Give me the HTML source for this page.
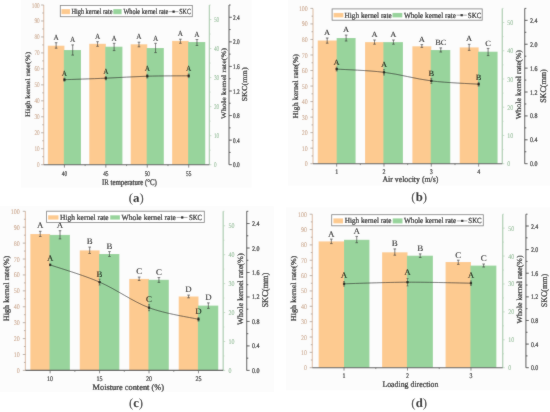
<!DOCTYPE html>
<html><head><meta charset="utf-8"><title>Figure</title>
<style>html,body{margin:0;padding:0;background:#fff;}svg{display:block;}text{font-family:'Liberation Serif', serif;text-rendering:geometricPrecision;}</style>
</head><body>
<svg width="550" height="412" viewBox="0 0 550 412">
<defs><filter id="soft" x="0" y="0" width="550" height="412" filterUnits="userSpaceOnUse"><feConvolveMatrix order="3" kernelMatrix="1 2 1 2 28 2 1 2 1" edgeMode="duplicate"/></filter></defs>
<g filter="url(#soft)">
<rect width="550" height="412" fill="#fff"/>
<rect x="21" y="0" width="230.5" height="187.7" fill="#FCFCFC"/>
<rect x="47.84" y="45.7" width="16.57" height="119" fill="#FDCA90"/>
<rect x="63.81" y="50" width="17.17" height="114.7" fill="#98D49C"/>
<rect x="89.27" y="43.8" width="16.57" height="120.9" fill="#FDCA90"/>
<rect x="105.24" y="46.7" width="17.17" height="118" fill="#98D49C"/>
<rect x="130.69" y="44.3" width="16.57" height="120.4" fill="#FDCA90"/>
<rect x="146.66" y="48" width="17.17" height="116.7" fill="#98D49C"/>
<rect x="172.12" y="40.9" width="16.57" height="123.8" fill="#FDCA90"/>
<rect x="188.09" y="42" width="17.17" height="122.7" fill="#98D49C"/>
<path d="M56.13,42.7V48.2M54.83,42.7H57.43M54.83,48.2H57.43" stroke="#333333" stroke-width="0.65" fill="none"/>
<text x="56.13" y="39.9" font-size="8.1" fill="#000" text-anchor="middle" textLength="5.26" lengthAdjust="spacingAndGlyphs" stroke="#000" stroke-width="0.05">A</text>
<path d="M72.7,44.9V55.1M71.4,44.9H74M71.4,55.1H74" stroke="#333333" stroke-width="0.65" fill="none"/>
<text x="72.7" y="42.1" font-size="8.1" fill="#000" text-anchor="middle" textLength="5.26" lengthAdjust="spacingAndGlyphs" stroke="#000" stroke-width="0.05">A</text>
<path d="M97.55,41.7V46.3M96.25,41.7H98.85M96.25,46.3H98.85" stroke="#333333" stroke-width="0.65" fill="none"/>
<text x="97.55" y="38.9" font-size="8.1" fill="#000" text-anchor="middle" textLength="5.26" lengthAdjust="spacingAndGlyphs" stroke="#000" stroke-width="0.05">A</text>
<path d="M114.12,43.3V50.6M112.82,43.3H115.42M112.82,50.6H115.42" stroke="#333333" stroke-width="0.65" fill="none"/>
<text x="114.12" y="40.5" font-size="8.1" fill="#000" text-anchor="middle" textLength="5.26" lengthAdjust="spacingAndGlyphs" stroke="#000" stroke-width="0.05">A</text>
<path d="M138.98,42.2V46.8M137.68,42.2H140.28M137.68,46.8H140.28" stroke="#333333" stroke-width="0.65" fill="none"/>
<text x="138.98" y="39.4" font-size="8.1" fill="#000" text-anchor="middle" textLength="5.26" lengthAdjust="spacingAndGlyphs" stroke="#000" stroke-width="0.05">A</text>
<path d="M155.55,43.3V52.6M154.25,43.3H156.85M154.25,52.6H156.85" stroke="#333333" stroke-width="0.65" fill="none"/>
<text x="155.55" y="40.5" font-size="8.1" fill="#000" text-anchor="middle" textLength="5.26" lengthAdjust="spacingAndGlyphs" stroke="#000" stroke-width="0.05">A</text>
<path d="M180.4,39.2V43.3M179.1,39.2H181.7M179.1,43.3H181.7" stroke="#333333" stroke-width="0.65" fill="none"/>
<text x="180.4" y="36.4" font-size="8.1" fill="#000" text-anchor="middle" textLength="5.26" lengthAdjust="spacingAndGlyphs" stroke="#000" stroke-width="0.05">A</text>
<path d="M196.97,39.5V45.5M195.67,39.5H198.27M195.67,45.5H198.27" stroke="#333333" stroke-width="0.65" fill="none"/>
<text x="196.97" y="36.7" font-size="8.1" fill="#000" text-anchor="middle" textLength="5.26" lengthAdjust="spacingAndGlyphs" stroke="#000" stroke-width="0.05">A</text>
<path d="M43.7,5V164.7" stroke="#DFC2AC" stroke-width="1.15"/>
<path d="M41.1,164.7H43.7M42.2,156.71H43.7M41.1,148.73H43.7M42.2,140.75H43.7M41.1,132.76H43.7M42.2,124.77H43.7M41.1,116.79H43.7M42.2,108.8H43.7M41.1,100.82H43.7M42.2,92.83H43.7M41.1,84.85H43.7M42.2,76.86H43.7M41.1,68.88H43.7M42.2,60.89H43.7M41.1,52.91H43.7M42.2,44.92H43.7M41.1,36.94H43.7M42.2,28.96H43.7M41.1,20.97H43.7M42.2,12.99H43.7M41.1,5H43.7" stroke="#A09489" stroke-width="0.7"/>
<text x="39.7" y="167.22" font-size="7" fill="#C9A489" text-anchor="end" textLength="2.62" lengthAdjust="spacingAndGlyphs" stroke="#C9A489" stroke-width="0.08">0</text>
<text x="39.7" y="151.25" font-size="7" fill="#C9A489" text-anchor="end" textLength="5.25" lengthAdjust="spacingAndGlyphs" stroke="#C9A489" stroke-width="0.08">10</text>
<text x="39.7" y="135.28" font-size="7" fill="#C9A489" text-anchor="end" textLength="5.25" lengthAdjust="spacingAndGlyphs" stroke="#C9A489" stroke-width="0.08">20</text>
<text x="39.7" y="119.31" font-size="7" fill="#C9A489" text-anchor="end" textLength="5.25" lengthAdjust="spacingAndGlyphs" stroke="#C9A489" stroke-width="0.08">30</text>
<text x="39.7" y="103.34" font-size="7" fill="#C9A489" text-anchor="end" textLength="5.25" lengthAdjust="spacingAndGlyphs" stroke="#C9A489" stroke-width="0.08">40</text>
<text x="39.7" y="87.37" font-size="7" fill="#C9A489" text-anchor="end" textLength="5.25" lengthAdjust="spacingAndGlyphs" stroke="#C9A489" stroke-width="0.08">50</text>
<text x="39.7" y="71.4" font-size="7" fill="#C9A489" text-anchor="end" textLength="5.25" lengthAdjust="spacingAndGlyphs" stroke="#C9A489" stroke-width="0.08">60</text>
<text x="39.7" y="55.43" font-size="7" fill="#C9A489" text-anchor="end" textLength="5.25" lengthAdjust="spacingAndGlyphs" stroke="#C9A489" stroke-width="0.08">70</text>
<text x="39.7" y="39.46" font-size="7" fill="#C9A489" text-anchor="end" textLength="5.25" lengthAdjust="spacingAndGlyphs" stroke="#C9A489" stroke-width="0.08">80</text>
<text x="39.7" y="23.49" font-size="7" fill="#C9A489" text-anchor="end" textLength="5.25" lengthAdjust="spacingAndGlyphs" stroke="#C9A489" stroke-width="0.08">90</text>
<text x="39.7" y="7.52" font-size="7" fill="#C9A489" text-anchor="end" textLength="7.88" lengthAdjust="spacingAndGlyphs" stroke="#C9A489" stroke-width="0.08">100</text>
<path d="M209.4,5V164.7" stroke="#B3D1B6" stroke-width="1.3"/>
<path d="M209.4,164.7H211.4M209.4,150.18H210.6M209.4,135.66H211.4M209.4,121.15H210.6M209.4,106.63H211.4M209.4,92.11H210.6M209.4,77.59H211.4M209.4,63.07H210.6M209.4,48.55H211.4M209.4,34.04H210.6M209.4,19.52H211.4M209.4,5H210.6" stroke="#B3D1B6" stroke-width="0.7"/>
<text x="213.9" y="167.22" font-size="7" fill="#8FBA94" textLength="2.62" lengthAdjust="spacingAndGlyphs" stroke="#8FBA94" stroke-width="0.08">0</text>
<text x="213.9" y="138.18" font-size="7" fill="#8FBA94" textLength="5.25" lengthAdjust="spacingAndGlyphs" stroke="#8FBA94" stroke-width="0.08">10</text>
<text x="213.9" y="109.15" font-size="7" fill="#8FBA94" textLength="5.25" lengthAdjust="spacingAndGlyphs" stroke="#8FBA94" stroke-width="0.08">20</text>
<text x="213.9" y="80.11" font-size="7" fill="#8FBA94" textLength="5.25" lengthAdjust="spacingAndGlyphs" stroke="#8FBA94" stroke-width="0.08">30</text>
<text x="213.9" y="51.07" font-size="7" fill="#8FBA94" textLength="5.25" lengthAdjust="spacingAndGlyphs" stroke="#8FBA94" stroke-width="0.08">40</text>
<text x="213.9" y="22.04" font-size="7" fill="#8FBA94" textLength="5.25" lengthAdjust="spacingAndGlyphs" stroke="#8FBA94" stroke-width="0.08">50</text>
<path d="M229,5V164.7" stroke="#666666" stroke-width="1.1"/>
<path d="M229,164.7H231.9M229,152.42H230.6M229,140.13H231.9M229,127.85H230.6M229,115.56H231.9M229,103.28H230.6M229,90.99H231.9M229,78.71H230.6M229,66.42H231.9M229,54.14H230.6M229,41.85H231.9M229,29.57H230.6M229,17.28H231.9M229,5H230.6" stroke="#444" stroke-width="0.9"/>
<text x="233.1" y="167.22" font-size="7" fill="#1a1a1a" textLength="6.56" lengthAdjust="spacingAndGlyphs" stroke="#1a1a1a" stroke-width="0.22">0.0</text>
<text x="233.1" y="142.65" font-size="7" fill="#1a1a1a" textLength="6.56" lengthAdjust="spacingAndGlyphs" stroke="#1a1a1a" stroke-width="0.22">0.4</text>
<text x="233.1" y="118.08" font-size="7" fill="#1a1a1a" textLength="6.56" lengthAdjust="spacingAndGlyphs" stroke="#1a1a1a" stroke-width="0.22">0.8</text>
<text x="233.1" y="93.51" font-size="7" fill="#1a1a1a" textLength="6.56" lengthAdjust="spacingAndGlyphs" stroke="#1a1a1a" stroke-width="0.22">1.2</text>
<text x="233.1" y="68.94" font-size="7" fill="#1a1a1a" textLength="6.56" lengthAdjust="spacingAndGlyphs" stroke="#1a1a1a" stroke-width="0.22">1.6</text>
<text x="233.1" y="44.37" font-size="7" fill="#1a1a1a" textLength="6.56" lengthAdjust="spacingAndGlyphs" stroke="#1a1a1a" stroke-width="0.22">2.0</text>
<text x="233.1" y="19.8" font-size="7" fill="#1a1a1a" textLength="6.56" lengthAdjust="spacingAndGlyphs" stroke="#1a1a1a" stroke-width="0.22">2.4</text>
<path d="M43.7,164.7H209.4" stroke="#5a5a5a" stroke-width="1.1"/>
<path d="M64.41,164.7V167.6M105.84,164.7V167.6M85.12,164.7V166.1M147.26,164.7V167.6M126.55,164.7V166.1M188.69,164.7V167.6M167.97,164.7V166.1" stroke="#5a5a5a" stroke-width="0.7"/>
<text x="64.41" y="175.52" font-size="7" fill="#111111" text-anchor="middle" textLength="5.25" lengthAdjust="spacingAndGlyphs" stroke="#111111" stroke-width="0.16">40</text>
<text x="105.84" y="175.52" font-size="7" fill="#111111" text-anchor="middle" textLength="5.25" lengthAdjust="spacingAndGlyphs" stroke="#111111" stroke-width="0.16">45</text>
<text x="147.26" y="175.52" font-size="7" fill="#111111" text-anchor="middle" textLength="5.25" lengthAdjust="spacingAndGlyphs" stroke="#111111" stroke-width="0.16">50</text>
<text x="188.69" y="175.52" font-size="7" fill="#111111" text-anchor="middle" textLength="5.25" lengthAdjust="spacingAndGlyphs" stroke="#111111" stroke-width="0.16">55</text>
<text x="129.4" y="185" font-size="8.6" fill="#111111" text-anchor="middle" textLength="55" lengthAdjust="spacingAndGlyphs" stroke="#111111" stroke-width="0.22">IR temperature (°C)</text>
<g transform="translate(27.6,84.4) rotate(-90) scale(1,0.85)"><text x="0" y="2.64" font-size="8" fill="#111111" text-anchor="middle" textLength="65.2" lengthAdjust="spacingAndGlyphs" stroke="#111111" stroke-width="0.2">High kernel rate(%)</text></g>
<g transform="translate(224,83.5) rotate(-90) scale(1,0.85)"><text x="0" y="2.64" font-size="8" fill="#111111" text-anchor="middle" textLength="71.2" lengthAdjust="spacingAndGlyphs" stroke="#111111" stroke-width="0.2">Whole kernel rate(%)</text></g>
<g transform="translate(244.9,84.4) rotate(-90) scale(1,0.95)"><text x="0" y="2.64" font-size="8" fill="#111111" text-anchor="middle" textLength="34.2" lengthAdjust="spacingAndGlyphs" stroke="#111111" stroke-width="0.2">SKC(mm)</text></g>
<path d="M64.41,79.7 C71.32,79.45 92.03,78.78 105.84,78.2 C119.65,77.62 133.45,76.6 147.26,76.2 C161.07,75.8 181.78,75.87 188.69,75.8" stroke="#2a2a2a" stroke-width="0.65" fill="none"/>
<path d="M64.41,78.2V81.2M63.41,78.2H65.41M63.41,81.2H65.41" stroke="#333333" stroke-width="0.5"/>
<rect x="63.31" y="78.6" width="2.2" height="2.2" fill="#111"/>
<text x="64.41" y="75.5" font-size="8.1" fill="#000" text-anchor="middle" textLength="5.26" lengthAdjust="spacingAndGlyphs" stroke="#000" stroke-width="0.05">A</text>
<path d="M105.84,76.6V79.8M104.84,76.6H106.84M104.84,79.8H106.84" stroke="#333333" stroke-width="0.5"/>
<rect x="104.74" y="77.1" width="2.2" height="2.2" fill="#111"/>
<text x="105.84" y="73.8" font-size="8.1" fill="#000" text-anchor="middle" textLength="5.26" lengthAdjust="spacingAndGlyphs" stroke="#000" stroke-width="0.05">A</text>
<path d="M147.26,74.4V78M146.26,74.4H148.26M146.26,78H148.26" stroke="#333333" stroke-width="0.5"/>
<rect x="146.16" y="75.1" width="2.2" height="2.2" fill="#111"/>
<text x="147.26" y="71.4" font-size="8.1" fill="#000" text-anchor="middle" textLength="5.26" lengthAdjust="spacingAndGlyphs" stroke="#000" stroke-width="0.05">A</text>
<path d="M188.69,74V77.6M187.69,74H189.69M187.69,77.6H189.69" stroke="#333333" stroke-width="0.5"/>
<rect x="187.59" y="74.7" width="2.2" height="2.2" fill="#111"/>
<text x="188.69" y="71.1" font-size="8.1" fill="#000" text-anchor="middle" textLength="5.26" lengthAdjust="spacingAndGlyphs" stroke="#000" stroke-width="0.05">A</text>
<rect x="60.3" y="5.5" width="132" height="11.2" fill="#fff" stroke="#7a7a7a" stroke-width="0.8"/>
<rect x="61.5" y="9.1" width="8.6" height="5.1" fill="#FDCA90"/>
<rect x="113.3" y="9.1" width="8.3" height="5.1" fill="#98D49C"/>
<text x="71.4" y="13.9" font-size="7.8" fill="#111111" textLength="41.1" lengthAdjust="spacingAndGlyphs" stroke="#111111" stroke-width="0.2">High kernel rate</text>
<text x="123.4" y="13.9" font-size="7.8" fill="#111111" textLength="45" lengthAdjust="spacingAndGlyphs" stroke="#111111" stroke-width="0.2">Whole kernel rate</text>
<text x="179.3" y="13.9" font-size="7.8" fill="#111111" textLength="11.6" lengthAdjust="spacingAndGlyphs" stroke="#111111" stroke-width="0.2">SKC</text>
<path d="M168.6,11.65H178.4" stroke="#555" stroke-width="0.55"/>
<rect x="172.5" y="10.55" width="2.2" height="2.2" fill="#000"/>
<text x="136.2" y="201.7" font-size="12.8" fill="#111" text-anchor="middle">(<tspan font-weight="bold">a</tspan>)</text>
<rect x="288" y="0" width="262" height="185.5" fill="#FCFCFC"/>
<rect x="317.73" y="40.5" width="19.53" height="123.2" fill="#FDCA90"/>
<rect x="336.66" y="38" width="18.93" height="125.7" fill="#98D49C"/>
<rect x="365.06" y="42.1" width="18.93" height="121.6" fill="#FDCA90"/>
<rect x="383.39" y="42.1" width="19.53" height="121.6" fill="#98D49C"/>
<rect x="412.38" y="46.3" width="18.93" height="117.4" fill="#FDCA90"/>
<rect x="430.71" y="50" width="19.53" height="113.7" fill="#98D49C"/>
<rect x="459.71" y="47.4" width="18.93" height="116.3" fill="#FDCA90"/>
<rect x="478.04" y="51.7" width="19.53" height="112" fill="#98D49C"/>
<path d="M327.2,38V43.2M325.9,38H328.5M325.9,43.2H328.5" stroke="#333333" stroke-width="0.65" fill="none"/>
<text x="327.2" y="35.1" font-size="8" fill="#000" text-anchor="middle" textLength="6.12" lengthAdjust="spacingAndGlyphs" stroke="#000" stroke-width="0.05">A</text>
<path d="M346.13,35.1V41M344.83,35.1H347.43M344.83,41H347.43" stroke="#333333" stroke-width="0.65" fill="none"/>
<text x="346.13" y="32.2" font-size="8" fill="#000" text-anchor="middle" textLength="6.12" lengthAdjust="spacingAndGlyphs" stroke="#000" stroke-width="0.05">A</text>
<path d="M374.52,40V44.2M373.22,40H375.82M373.22,44.2H375.82" stroke="#333333" stroke-width="0.65" fill="none"/>
<text x="374.52" y="37.1" font-size="8" fill="#000" text-anchor="middle" textLength="6.12" lengthAdjust="spacingAndGlyphs" stroke="#000" stroke-width="0.05">A</text>
<path d="M393.45,40V44.2M392.15,40H394.75M392.15,44.2H394.75" stroke="#333333" stroke-width="0.65" fill="none"/>
<text x="393.45" y="37.1" font-size="8" fill="#000" text-anchor="middle" textLength="6.12" lengthAdjust="spacingAndGlyphs" stroke="#000" stroke-width="0.05">A</text>
<path d="M421.85,44.6V47.4M420.55,44.6H423.15M420.55,47.4H423.15" stroke="#333333" stroke-width="0.65" fill="none"/>
<text x="421.85" y="41.7" font-size="8" fill="#000" text-anchor="middle" textLength="6.12" lengthAdjust="spacingAndGlyphs" stroke="#000" stroke-width="0.05">A</text>
<path d="M440.78,47.9V52M439.48,47.9H442.08M439.48,52H442.08" stroke="#333333" stroke-width="0.65" fill="none"/>
<text x="440.78" y="45" font-size="8" fill="#000" text-anchor="middle" textLength="11.31" lengthAdjust="spacingAndGlyphs" stroke="#000" stroke-width="0.05">BC</text>
<path d="M469.17,44.3V50.4M467.87,44.3H470.47M467.87,50.4H470.47" stroke="#333333" stroke-width="0.65" fill="none"/>
<text x="469.17" y="41.4" font-size="8" fill="#000" text-anchor="middle" textLength="6.12" lengthAdjust="spacingAndGlyphs" stroke="#000" stroke-width="0.05">A</text>
<path d="M488.1,48.4V55.6M486.8,48.4H489.4M486.8,55.6H489.4" stroke="#333333" stroke-width="0.65" fill="none"/>
<text x="488.1" y="45.5" font-size="8" fill="#000" text-anchor="middle" textLength="5.66" lengthAdjust="spacingAndGlyphs" stroke="#000" stroke-width="0.05">C</text>
<path d="M313,8.4V163.7" stroke="#DFC2AC" stroke-width="1.15"/>
<path d="M310.4,163.7H313M311.5,155.94H313M310.4,148.17H313M311.5,140.41H313M310.4,132.64H313M311.5,124.88H313M310.4,117.11H313M311.5,109.34H313M310.4,101.58H313M311.5,93.81H313M310.4,86.05H313M311.5,78.28H313M310.4,70.52H313M311.5,62.75H313M310.4,54.99H313M311.5,47.22H313M310.4,39.46H313M311.5,31.69H313M310.4,23.93H313M311.5,16.17H313M310.4,8.4H313" stroke="#A09489" stroke-width="0.7"/>
<text x="307.8" y="166.22" font-size="7" fill="#C9A489" text-anchor="end" textLength="2.98" lengthAdjust="spacingAndGlyphs" stroke="#C9A489" stroke-width="0.08">0</text>
<text x="307.8" y="150.69" font-size="7" fill="#C9A489" text-anchor="end" textLength="5.95" lengthAdjust="spacingAndGlyphs" stroke="#C9A489" stroke-width="0.08">10</text>
<text x="307.8" y="135.16" font-size="7" fill="#C9A489" text-anchor="end" textLength="5.95" lengthAdjust="spacingAndGlyphs" stroke="#C9A489" stroke-width="0.08">20</text>
<text x="307.8" y="119.63" font-size="7" fill="#C9A489" text-anchor="end" textLength="5.95" lengthAdjust="spacingAndGlyphs" stroke="#C9A489" stroke-width="0.08">30</text>
<text x="307.8" y="104.1" font-size="7" fill="#C9A489" text-anchor="end" textLength="5.95" lengthAdjust="spacingAndGlyphs" stroke="#C9A489" stroke-width="0.08">40</text>
<text x="307.8" y="88.57" font-size="7" fill="#C9A489" text-anchor="end" textLength="5.95" lengthAdjust="spacingAndGlyphs" stroke="#C9A489" stroke-width="0.08">50</text>
<text x="307.8" y="73.04" font-size="7" fill="#C9A489" text-anchor="end" textLength="5.95" lengthAdjust="spacingAndGlyphs" stroke="#C9A489" stroke-width="0.08">60</text>
<text x="307.8" y="57.51" font-size="7" fill="#C9A489" text-anchor="end" textLength="5.95" lengthAdjust="spacingAndGlyphs" stroke="#C9A489" stroke-width="0.08">70</text>
<text x="307.8" y="41.98" font-size="7" fill="#C9A489" text-anchor="end" textLength="5.95" lengthAdjust="spacingAndGlyphs" stroke="#C9A489" stroke-width="0.08">80</text>
<text x="307.8" y="26.45" font-size="7" fill="#C9A489" text-anchor="end" textLength="5.95" lengthAdjust="spacingAndGlyphs" stroke="#C9A489" stroke-width="0.08">90</text>
<text x="307.8" y="10.92" font-size="7" fill="#C9A489" text-anchor="end" textLength="8.92" lengthAdjust="spacingAndGlyphs" stroke="#C9A489" stroke-width="0.08">100</text>
<path d="M502.3,8.4V163.7" stroke="#B3D1B6" stroke-width="1.3"/>
<path d="M502.3,163.7H504.3M502.3,149.58H503.5M502.3,135.46H504.3M502.3,121.35H503.5M502.3,107.23H504.3M502.3,93.11H503.5M502.3,78.99H504.3M502.3,64.87H503.5M502.3,50.75H504.3M502.3,36.64H503.5M502.3,22.52H504.3M502.3,8.4H503.5" stroke="#B3D1B6" stroke-width="0.7"/>
<text x="507.3" y="166.22" font-size="7" fill="#8FBA94" textLength="2.98" lengthAdjust="spacingAndGlyphs" stroke="#8FBA94" stroke-width="0.08">0</text>
<text x="507.3" y="137.98" font-size="7" fill="#8FBA94" textLength="5.95" lengthAdjust="spacingAndGlyphs" stroke="#8FBA94" stroke-width="0.08">10</text>
<text x="507.3" y="109.75" font-size="7" fill="#8FBA94" textLength="5.95" lengthAdjust="spacingAndGlyphs" stroke="#8FBA94" stroke-width="0.08">20</text>
<text x="507.3" y="81.51" font-size="7" fill="#8FBA94" textLength="5.95" lengthAdjust="spacingAndGlyphs" stroke="#8FBA94" stroke-width="0.08">30</text>
<text x="507.3" y="53.27" font-size="7" fill="#8FBA94" textLength="5.95" lengthAdjust="spacingAndGlyphs" stroke="#8FBA94" stroke-width="0.08">40</text>
<text x="507.3" y="25.04" font-size="7" fill="#8FBA94" textLength="5.95" lengthAdjust="spacingAndGlyphs" stroke="#8FBA94" stroke-width="0.08">50</text>
<path d="M524.7,8.4V163.7" stroke="#666666" stroke-width="1.1"/>
<path d="M524.7,163.7H527.6M524.7,151.75H526.3M524.7,139.81H527.6M524.7,127.86H526.3M524.7,115.92H527.6M524.7,103.97H526.3M524.7,92.02H527.6M524.7,80.08H526.3M524.7,68.13H527.6M524.7,56.18H526.3M524.7,44.24H527.6M524.7,32.29H526.3M524.7,20.35H527.6M524.7,8.4H526.3" stroke="#444" stroke-width="0.9"/>
<text x="530" y="166.22" font-size="7" fill="#1a1a1a" textLength="7.44" lengthAdjust="spacingAndGlyphs" stroke="#1a1a1a" stroke-width="0.22">0.0</text>
<text x="530" y="142.33" font-size="7" fill="#1a1a1a" textLength="7.44" lengthAdjust="spacingAndGlyphs" stroke="#1a1a1a" stroke-width="0.22">0.4</text>
<text x="530" y="118.44" font-size="7" fill="#1a1a1a" textLength="7.44" lengthAdjust="spacingAndGlyphs" stroke="#1a1a1a" stroke-width="0.22">0.8</text>
<text x="530" y="94.54" font-size="7" fill="#1a1a1a" textLength="7.44" lengthAdjust="spacingAndGlyphs" stroke="#1a1a1a" stroke-width="0.22">1.2</text>
<text x="530" y="70.65" font-size="7" fill="#1a1a1a" textLength="7.44" lengthAdjust="spacingAndGlyphs" stroke="#1a1a1a" stroke-width="0.22">1.6</text>
<text x="530" y="46.76" font-size="7" fill="#1a1a1a" textLength="7.44" lengthAdjust="spacingAndGlyphs" stroke="#1a1a1a" stroke-width="0.22">2.0</text>
<text x="530" y="22.87" font-size="7" fill="#1a1a1a" textLength="7.44" lengthAdjust="spacingAndGlyphs" stroke="#1a1a1a" stroke-width="0.22">2.4</text>
<path d="M313,163.7H502.3" stroke="#5a5a5a" stroke-width="1.1"/>
<path d="M336.66,163.7V166.6M383.99,163.7V166.6M360.32,163.7V165.1M431.31,163.7V166.6M407.65,163.7V165.1M478.64,163.7V166.6M454.98,163.7V165.1" stroke="#5a5a5a" stroke-width="0.7"/>
<text x="336.66" y="173.82" font-size="7" fill="#111111" text-anchor="middle" textLength="2.98" lengthAdjust="spacingAndGlyphs" stroke="#111111" stroke-width="0.16">1</text>
<text x="383.99" y="173.82" font-size="7" fill="#111111" text-anchor="middle" textLength="2.98" lengthAdjust="spacingAndGlyphs" stroke="#111111" stroke-width="0.16">2</text>
<text x="431.31" y="173.82" font-size="7" fill="#111111" text-anchor="middle" textLength="2.98" lengthAdjust="spacingAndGlyphs" stroke="#111111" stroke-width="0.16">3</text>
<text x="478.64" y="173.82" font-size="7" fill="#111111" text-anchor="middle" textLength="2.98" lengthAdjust="spacingAndGlyphs" stroke="#111111" stroke-width="0.16">4</text>
<text x="410.4" y="181.8" font-size="8.6" fill="#111111" text-anchor="middle" textLength="56" lengthAdjust="spacingAndGlyphs" stroke="#111111" stroke-width="0.22">Air velocity (m/s)</text>
<g transform="translate(295.2,86.2) rotate(-90) scale(1,0.95)"><text x="0" y="2.64" font-size="8" fill="#111111" text-anchor="middle" textLength="64.5" lengthAdjust="spacingAndGlyphs" stroke="#111111" stroke-width="0.2">High kernel rate(%)</text></g>
<g transform="translate(518.8,84.6) rotate(-90) scale(1,0.95)"><text x="0" y="2.64" font-size="8" fill="#111111" text-anchor="middle" textLength="69.2" lengthAdjust="spacingAndGlyphs" stroke="#111111" stroke-width="0.2">Whole kernel rate(%)</text></g>
<g transform="translate(543.2,86.1) rotate(-90) scale(1,1.06)"><text x="0" y="2.64" font-size="8" fill="#111111" text-anchor="middle" textLength="33.5" lengthAdjust="spacingAndGlyphs" stroke="#111111" stroke-width="0.2">SKC(mm)</text></g>
<path d="M336.66,69.1 C344.55,69.63 368.21,70.33 383.99,72.3 C399.76,74.27 415.54,78.92 431.31,80.9 C447.09,82.88 470.75,83.65 478.64,84.2" stroke="#2a2a2a" stroke-width="0.65" fill="none"/>
<path d="M336.66,67.2V71M335.66,67.2H337.66M335.66,71H337.66" stroke="#333333" stroke-width="0.5"/>
<rect x="335.56" y="68" width="2.2" height="2.2" fill="#111"/>
<text x="336.66" y="64.6" font-size="8" fill="#000" text-anchor="middle" textLength="6.12" lengthAdjust="spacingAndGlyphs" stroke="#000" stroke-width="0.05">A</text>
<path d="M383.99,69.6V75M382.99,69.6H384.99M382.99,75H384.99" stroke="#333333" stroke-width="0.5"/>
<rect x="382.89" y="71.2" width="2.2" height="2.2" fill="#111"/>
<text x="383.99" y="66.9" font-size="8" fill="#000" text-anchor="middle" textLength="6.12" lengthAdjust="spacingAndGlyphs" stroke="#000" stroke-width="0.05">A</text>
<path d="M431.31,78.4V83.4M430.31,78.4H432.31M430.31,83.4H432.31" stroke="#333333" stroke-width="0.5"/>
<rect x="430.21" y="79.8" width="2.2" height="2.2" fill="#111"/>
<text x="431.31" y="76" font-size="8" fill="#000" text-anchor="middle" textLength="5.66" lengthAdjust="spacingAndGlyphs" stroke="#000" stroke-width="0.05">B</text>
<path d="M478.64,82.3V86.1M477.64,82.3H479.64M477.64,86.1H479.64" stroke="#333333" stroke-width="0.5"/>
<rect x="477.54" y="83.1" width="2.2" height="2.2" fill="#111"/>
<text x="478.64" y="79.9" font-size="8" fill="#000" text-anchor="middle" textLength="5.66" lengthAdjust="spacingAndGlyphs" stroke="#000" stroke-width="0.05">B</text>
<rect x="332.1" y="8.9" width="150.1" height="11.3" fill="#fff" stroke="#7a7a7a" stroke-width="0.8"/>
<rect x="333.6" y="12.9" width="9.8" height="4.5" fill="#FDCA90"/>
<rect x="392.5" y="12.9" width="9.8" height="4.5" fill="#98D49C"/>
<text x="344.5" y="17.8" font-size="7.8" fill="#111111" textLength="47.3" lengthAdjust="spacingAndGlyphs" stroke="#111111" stroke-width="0.2">High kernel rate</text>
<text x="403.9" y="17.8" font-size="7.8" fill="#111111" textLength="52" lengthAdjust="spacingAndGlyphs" stroke="#111111" stroke-width="0.2">Whole kernel rate</text>
<text x="467.8" y="17.8" font-size="7.8" fill="#111111" textLength="13.6" lengthAdjust="spacingAndGlyphs" stroke="#111111" stroke-width="0.2">SKC</text>
<path d="M456.6,15.15H466.8" stroke="#555" stroke-width="0.55"/>
<rect x="460.6" y="14.05" width="2.2" height="2.2" fill="#000"/>
<text x="419.2" y="201.4" font-size="12.8" fill="#111" text-anchor="middle">(<tspan font-weight="bold">b</tspan>)</text>
<rect x="0" y="206.2" width="273.8" height="186" fill="#FCFCFC"/>
<rect x="30.34" y="234" width="19.78" height="136.4" fill="#FDCA90"/>
<rect x="49.52" y="234.9" width="20.38" height="135.5" fill="#98D49C"/>
<rect x="79.79" y="250.4" width="19.78" height="120" fill="#FDCA90"/>
<rect x="98.97" y="254" width="20.38" height="116.4" fill="#98D49C"/>
<rect x="129.24" y="278.9" width="19.78" height="91.5" fill="#FDCA90"/>
<rect x="148.42" y="279.8" width="20.38" height="90.6" fill="#98D49C"/>
<rect x="178.69" y="296.5" width="19.78" height="73.9" fill="#FDCA90"/>
<rect x="197.88" y="305.6" width="20.38" height="64.8" fill="#98D49C"/>
<path d="M40.23,231.3V236.5M38.94,231.3H41.53M38.94,236.5H41.53" stroke="#333333" stroke-width="0.65" fill="none"/>
<text x="40.23" y="228.4" font-size="8.5" fill="#000" text-anchor="middle" textLength="6.38" lengthAdjust="spacingAndGlyphs" stroke="#000" stroke-width="0.05">A</text>
<path d="M60.02,230.7V238.9M58.72,230.7H61.31M58.72,238.9H61.31" stroke="#333333" stroke-width="0.65" fill="none"/>
<text x="60.02" y="227.8" font-size="8.5" fill="#000" text-anchor="middle" textLength="6.38" lengthAdjust="spacingAndGlyphs" stroke="#000" stroke-width="0.05">A</text>
<path d="M89.68,247.1V253.5M88.38,247.1H90.98M88.38,253.5H90.98" stroke="#333333" stroke-width="0.65" fill="none"/>
<text x="89.68" y="244.2" font-size="8.5" fill="#000" text-anchor="middle" textLength="5.9" lengthAdjust="spacingAndGlyphs" stroke="#000" stroke-width="0.05">B</text>
<path d="M109.46,251.6V256.5M108.16,251.6H110.76M108.16,256.5H110.76" stroke="#333333" stroke-width="0.65" fill="none"/>
<text x="109.46" y="248.7" font-size="8.5" fill="#000" text-anchor="middle" textLength="5.9" lengthAdjust="spacingAndGlyphs" stroke="#000" stroke-width="0.05">B</text>
<path d="M139.13,277.1V280.5M137.83,277.1H140.44M137.83,280.5H140.44" stroke="#333333" stroke-width="0.65" fill="none"/>
<text x="139.13" y="274.2" font-size="8.5" fill="#000" text-anchor="middle" textLength="5.9" lengthAdjust="spacingAndGlyphs" stroke="#000" stroke-width="0.05">C</text>
<path d="M158.91,277.5V282.4M157.61,277.5H160.21M157.61,282.4H160.21" stroke="#333333" stroke-width="0.65" fill="none"/>
<text x="158.91" y="274.6" font-size="8.5" fill="#000" text-anchor="middle" textLength="5.9" lengthAdjust="spacingAndGlyphs" stroke="#000" stroke-width="0.05">C</text>
<path d="M188.58,295.1V297.8M187.28,295.1H189.88M187.28,297.8H189.88" stroke="#333333" stroke-width="0.65" fill="none"/>
<text x="188.58" y="292.2" font-size="8.5" fill="#000" text-anchor="middle" textLength="6.38" lengthAdjust="spacingAndGlyphs" stroke="#000" stroke-width="0.05">D</text>
<path d="M208.37,302.9V308.4M207.06,302.9H209.67M207.06,308.4H209.67" stroke="#333333" stroke-width="0.65" fill="none"/>
<text x="208.37" y="300" font-size="8.5" fill="#000" text-anchor="middle" textLength="6.38" lengthAdjust="spacingAndGlyphs" stroke="#000" stroke-width="0.05">D</text>
<path d="M25.4,211.3V370.4" stroke="#DFC2AC" stroke-width="1.15"/>
<path d="M22.8,370.4H25.4M23.9,362.44H25.4M22.8,354.49H25.4M23.9,346.53H25.4M22.8,338.58H25.4M23.9,330.62H25.4M22.8,322.67H25.4M23.9,314.71H25.4M22.8,306.76H25.4M23.9,298.81H25.4M22.8,290.85H25.4M23.9,282.89H25.4M22.8,274.94H25.4M23.9,266.99H25.4M22.8,259.03H25.4M23.9,251.07H25.4M22.8,243.12H25.4M23.9,235.17H25.4M22.8,227.21H25.4M23.9,219.26H25.4M22.8,211.3H25.4" stroke="#A09489" stroke-width="0.7"/>
<text x="19.8" y="372.92" font-size="7" fill="#C9A489" text-anchor="end" textLength="3.01" lengthAdjust="spacingAndGlyphs" stroke="#C9A489" stroke-width="0.08">0</text>
<text x="19.8" y="357.01" font-size="7" fill="#C9A489" text-anchor="end" textLength="6.02" lengthAdjust="spacingAndGlyphs" stroke="#C9A489" stroke-width="0.08">10</text>
<text x="19.8" y="341.1" font-size="7" fill="#C9A489" text-anchor="end" textLength="6.02" lengthAdjust="spacingAndGlyphs" stroke="#C9A489" stroke-width="0.08">20</text>
<text x="19.8" y="325.19" font-size="7" fill="#C9A489" text-anchor="end" textLength="6.02" lengthAdjust="spacingAndGlyphs" stroke="#C9A489" stroke-width="0.08">30</text>
<text x="19.8" y="309.28" font-size="7" fill="#C9A489" text-anchor="end" textLength="6.02" lengthAdjust="spacingAndGlyphs" stroke="#C9A489" stroke-width="0.08">40</text>
<text x="19.8" y="293.37" font-size="7" fill="#C9A489" text-anchor="end" textLength="6.02" lengthAdjust="spacingAndGlyphs" stroke="#C9A489" stroke-width="0.08">50</text>
<text x="19.8" y="277.46" font-size="7" fill="#C9A489" text-anchor="end" textLength="6.02" lengthAdjust="spacingAndGlyphs" stroke="#C9A489" stroke-width="0.08">60</text>
<text x="19.8" y="261.55" font-size="7" fill="#C9A489" text-anchor="end" textLength="6.02" lengthAdjust="spacingAndGlyphs" stroke="#C9A489" stroke-width="0.08">70</text>
<text x="19.8" y="245.64" font-size="7" fill="#C9A489" text-anchor="end" textLength="6.02" lengthAdjust="spacingAndGlyphs" stroke="#C9A489" stroke-width="0.08">80</text>
<text x="19.8" y="229.73" font-size="7" fill="#C9A489" text-anchor="end" textLength="6.02" lengthAdjust="spacingAndGlyphs" stroke="#C9A489" stroke-width="0.08">90</text>
<text x="19.8" y="213.82" font-size="7" fill="#C9A489" text-anchor="end" textLength="9.03" lengthAdjust="spacingAndGlyphs" stroke="#C9A489" stroke-width="0.08">100</text>
<path d="M223.2,211.3V370.4" stroke="#B3D1B6" stroke-width="1.3"/>
<path d="M223.2,370.4H225.2M223.2,355.94H224.4M223.2,341.47H225.2M223.2,327.01H224.4M223.2,312.55H225.2M223.2,298.08H224.4M223.2,283.62H225.2M223.2,269.15H224.4M223.2,254.69H225.2M223.2,240.23H224.4M223.2,225.76H225.2M223.2,211.3H224.4" stroke="#B3D1B6" stroke-width="0.7"/>
<text x="228.4" y="372.92" font-size="7" fill="#8FBA94" textLength="3.01" lengthAdjust="spacingAndGlyphs" stroke="#8FBA94" stroke-width="0.08">0</text>
<text x="228.4" y="343.99" font-size="7" fill="#8FBA94" textLength="6.02" lengthAdjust="spacingAndGlyphs" stroke="#8FBA94" stroke-width="0.08">10</text>
<text x="228.4" y="315.07" font-size="7" fill="#8FBA94" textLength="6.02" lengthAdjust="spacingAndGlyphs" stroke="#8FBA94" stroke-width="0.08">20</text>
<text x="228.4" y="286.14" font-size="7" fill="#8FBA94" textLength="6.02" lengthAdjust="spacingAndGlyphs" stroke="#8FBA94" stroke-width="0.08">30</text>
<text x="228.4" y="257.21" font-size="7" fill="#8FBA94" textLength="6.02" lengthAdjust="spacingAndGlyphs" stroke="#8FBA94" stroke-width="0.08">40</text>
<text x="228.4" y="228.28" font-size="7" fill="#8FBA94" textLength="6.02" lengthAdjust="spacingAndGlyphs" stroke="#8FBA94" stroke-width="0.08">50</text>
<path d="M246.7,211.3V370.4" stroke="#666666" stroke-width="1.1"/>
<path d="M246.7,370.4H249.6M246.7,358.16H248.3M246.7,345.92H249.6M246.7,333.68H248.3M246.7,321.45H249.6M246.7,309.21H248.3M246.7,296.97H249.6M246.7,284.73H248.3M246.7,272.49H249.6M246.7,260.25H248.3M246.7,248.02H249.6M246.7,235.78H248.3M246.7,223.54H249.6M246.7,211.3H248.3" stroke="#444" stroke-width="0.9"/>
<text x="252" y="372.92" font-size="7" fill="#1a1a1a" textLength="7.52" lengthAdjust="spacingAndGlyphs" stroke="#1a1a1a" stroke-width="0.22">0.0</text>
<text x="252" y="348.44" font-size="7" fill="#1a1a1a" textLength="7.52" lengthAdjust="spacingAndGlyphs" stroke="#1a1a1a" stroke-width="0.22">0.4</text>
<text x="252" y="323.97" font-size="7" fill="#1a1a1a" textLength="7.52" lengthAdjust="spacingAndGlyphs" stroke="#1a1a1a" stroke-width="0.22">0.8</text>
<text x="252" y="299.49" font-size="7" fill="#1a1a1a" textLength="7.52" lengthAdjust="spacingAndGlyphs" stroke="#1a1a1a" stroke-width="0.22">1.2</text>
<text x="252" y="275.01" font-size="7" fill="#1a1a1a" textLength="7.52" lengthAdjust="spacingAndGlyphs" stroke="#1a1a1a" stroke-width="0.22">1.6</text>
<text x="252" y="250.54" font-size="7" fill="#1a1a1a" textLength="7.52" lengthAdjust="spacingAndGlyphs" stroke="#1a1a1a" stroke-width="0.22">2.0</text>
<text x="252" y="226.06" font-size="7" fill="#1a1a1a" textLength="7.52" lengthAdjust="spacingAndGlyphs" stroke="#1a1a1a" stroke-width="0.22">2.4</text>
<path d="M25.4,370.4H223.2" stroke="#5a5a5a" stroke-width="1.1"/>
<path d="M50.12,370.4V373.3M99.57,370.4V373.3M74.85,370.4V371.8M149.02,370.4V373.3M124.3,370.4V371.8M198.47,370.4V373.3M173.75,370.4V371.8" stroke="#5a5a5a" stroke-width="0.7"/>
<text x="50.12" y="380.52" font-size="7" fill="#111111" text-anchor="middle" textLength="6.02" lengthAdjust="spacingAndGlyphs" stroke="#111111" stroke-width="0.16">10</text>
<text x="99.57" y="380.52" font-size="7" fill="#111111" text-anchor="middle" textLength="6.02" lengthAdjust="spacingAndGlyphs" stroke="#111111" stroke-width="0.16">15</text>
<text x="149.02" y="380.52" font-size="7" fill="#111111" text-anchor="middle" textLength="6.02" lengthAdjust="spacingAndGlyphs" stroke="#111111" stroke-width="0.16">20</text>
<text x="198.47" y="380.52" font-size="7" fill="#111111" text-anchor="middle" textLength="6.02" lengthAdjust="spacingAndGlyphs" stroke="#111111" stroke-width="0.16">25</text>
<text x="128.3" y="389.9" font-size="8.6" fill="#111111" text-anchor="middle" textLength="71.4" lengthAdjust="spacingAndGlyphs" stroke="#111111" stroke-width="0.22">Moisture content (%)</text>
<g transform="translate(6.4,288.5) rotate(-90) scale(1,1)"><text x="0" y="2.64" font-size="8" fill="#111111" text-anchor="middle" textLength="65.5" lengthAdjust="spacingAndGlyphs" stroke="#111111" stroke-width="0.2">High kernel rate(%)</text></g>
<g transform="translate(240.6,289.1) rotate(-90) scale(1,1)"><text x="0" y="2.64" font-size="8" fill="#111111" text-anchor="middle" textLength="71.7" lengthAdjust="spacingAndGlyphs" stroke="#111111" stroke-width="0.2">Whole kernel rate(%)</text></g>
<g transform="translate(265.3,290.1) rotate(-90) scale(1,1.12)"><text x="0" y="2.64" font-size="8" fill="#111111" text-anchor="middle" textLength="35" lengthAdjust="spacingAndGlyphs" stroke="#111111" stroke-width="0.2">SKC(mm)</text></g>
<path d="M50.12,264.9 C58.37,267.77 83.09,274.97 99.57,282.1 C116.06,289.23 132.54,301.5 149.02,307.7 C165.51,313.9 190.23,317.37 198.47,319.3" stroke="#2a2a2a" stroke-width="0.65" fill="none"/>
<path d="M50.12,264.1V265.7M49.12,264.1H51.12M49.12,265.7H51.12" stroke="#333333" stroke-width="0.5"/>
<rect x="49.02" y="263.8" width="2.2" height="2.2" fill="#111"/>
<text x="50.12" y="261.1" font-size="8.5" fill="#000" text-anchor="middle" textLength="6.38" lengthAdjust="spacingAndGlyphs" stroke="#000" stroke-width="0.05">A</text>
<path d="M99.57,279.2V285M98.57,279.2H100.57M98.57,285H100.57" stroke="#333333" stroke-width="0.5"/>
<rect x="98.47" y="281" width="2.2" height="2.2" fill="#111"/>
<text x="99.57" y="277.2" font-size="8.5" fill="#000" text-anchor="middle" textLength="5.9" lengthAdjust="spacingAndGlyphs" stroke="#000" stroke-width="0.05">B</text>
<path d="M149.02,304.7V310.7M148.02,304.7H150.02M148.02,310.7H150.02" stroke="#333333" stroke-width="0.5"/>
<rect x="147.92" y="306.6" width="2.2" height="2.2" fill="#111"/>
<text x="149.02" y="302.1" font-size="8.5" fill="#000" text-anchor="middle" textLength="5.9" lengthAdjust="spacingAndGlyphs" stroke="#000" stroke-width="0.05">C</text>
<path d="M198.47,317.5V321.1M197.47,317.5H199.47M197.47,321.1H199.47" stroke="#333333" stroke-width="0.5"/>
<rect x="197.38" y="318.2" width="2.2" height="2.2" fill="#111"/>
<text x="198.47" y="313.7" font-size="8.5" fill="#000" text-anchor="middle" textLength="6.38" lengthAdjust="spacingAndGlyphs" stroke="#000" stroke-width="0.05">D</text>
<rect x="46.6" y="211.2" width="157.7" height="11.3" fill="#fff" stroke="#7a7a7a" stroke-width="0.8"/>
<rect x="48.1" y="215.3" width="10.4" height="4.3" fill="#FDCA90"/>
<rect x="110.2" y="215.3" width="9.7" height="4.3" fill="#98D49C"/>
<text x="60" y="219.5" font-size="7.8" fill="#111111" textLength="48.7" lengthAdjust="spacingAndGlyphs" stroke="#111111" stroke-width="0.2">High kernel rate</text>
<text x="121.5" y="219.5" font-size="7.8" fill="#111111" textLength="54.4" lengthAdjust="spacingAndGlyphs" stroke="#111111" stroke-width="0.2">Whole kernel rate</text>
<text x="189" y="219.5" font-size="7.8" fill="#111111" textLength="13.1" lengthAdjust="spacingAndGlyphs" stroke="#111111" stroke-width="0.2">SKC</text>
<path d="M176.6,217.45H187.5" stroke="#555" stroke-width="0.55"/>
<rect x="181.1" y="216.35" width="2.2" height="2.2" fill="#000"/>
<text x="136" y="406.6" font-size="12.8" fill="#111" text-anchor="middle">(<tspan font-weight="bold">c</tspan>)</text>
<rect x="286" y="207.5" width="264" height="182.8" fill="#FCFCFC"/>
<rect x="318.65" y="241.4" width="25.99" height="126.3" fill="#FDCA90"/>
<rect x="344.03" y="239.8" width="25.39" height="127.9" fill="#98D49C"/>
<rect x="382.11" y="252.3" width="25.39" height="115.4" fill="#FDCA90"/>
<rect x="406.9" y="255.7" width="25.99" height="112" fill="#98D49C"/>
<rect x="445.58" y="262" width="25.39" height="105.7" fill="#FDCA90"/>
<rect x="470.37" y="265.6" width="25.99" height="102.1" fill="#98D49C"/>
<path d="M331.34,239.1V243.6M330.04,239.1H332.64M330.04,243.6H332.64" stroke="#333333" stroke-width="0.65" fill="none"/>
<text x="331.34" y="236.5" font-size="8.5" fill="#000" text-anchor="middle" textLength="6.51" lengthAdjust="spacingAndGlyphs" stroke="#000" stroke-width="0.05">A</text>
<path d="M356.73,236.4V242.7M355.43,236.4H358.03M355.43,242.7H358.03" stroke="#333333" stroke-width="0.65" fill="none"/>
<text x="356.73" y="233.8" font-size="8.5" fill="#000" text-anchor="middle" textLength="6.51" lengthAdjust="spacingAndGlyphs" stroke="#000" stroke-width="0.05">A</text>
<path d="M394.81,248.9V255.2M393.51,248.9H396.11M393.51,255.2H396.11" stroke="#333333" stroke-width="0.65" fill="none"/>
<text x="394.81" y="246.3" font-size="8.5" fill="#000" text-anchor="middle" textLength="6.01" lengthAdjust="spacingAndGlyphs" stroke="#000" stroke-width="0.05">B</text>
<path d="M420.19,253.9V257.5M418.89,253.9H421.49M418.89,257.5H421.49" stroke="#333333" stroke-width="0.65" fill="none"/>
<text x="420.19" y="251.3" font-size="8.5" fill="#000" text-anchor="middle" textLength="6.01" lengthAdjust="spacingAndGlyphs" stroke="#000" stroke-width="0.05">B</text>
<path d="M458.27,260.2V264.4M456.97,260.2H459.57M456.97,264.4H459.57" stroke="#333333" stroke-width="0.65" fill="none"/>
<text x="458.27" y="257.6" font-size="8.5" fill="#000" text-anchor="middle" textLength="6.01" lengthAdjust="spacingAndGlyphs" stroke="#000" stroke-width="0.05">C</text>
<path d="M483.66,264V267M482.36,264H484.96M482.36,267H484.96" stroke="#333333" stroke-width="0.65" fill="none"/>
<text x="483.66" y="261.4" font-size="8.5" fill="#000" text-anchor="middle" textLength="6.01" lengthAdjust="spacingAndGlyphs" stroke="#000" stroke-width="0.05">C</text>
<path d="M312.3,214.2V367.7" stroke="#DFC2AC" stroke-width="1.15"/>
<path d="M309.7,367.7H312.3M310.8,360.02H312.3M309.7,352.35H312.3M310.8,344.68H312.3M309.7,337H312.3M310.8,329.32H312.3M309.7,321.65H312.3M310.8,313.98H312.3M309.7,306.3H312.3M310.8,298.62H312.3M309.7,290.95H312.3M310.8,283.27H312.3M309.7,275.6H312.3M310.8,267.92H312.3M309.7,260.25H312.3M310.8,252.57H312.3M309.7,244.9H312.3M310.8,237.22H312.3M309.7,229.55H312.3M310.8,221.88H312.3M309.7,214.2H312.3" stroke="#A09489" stroke-width="0.7"/>
<text x="306.9" y="370.22" font-size="7" fill="#C9A489" text-anchor="end" textLength="2.94" lengthAdjust="spacingAndGlyphs" stroke="#C9A489" stroke-width="0.08">0</text>
<text x="306.9" y="354.87" font-size="7" fill="#C9A489" text-anchor="end" textLength="5.88" lengthAdjust="spacingAndGlyphs" stroke="#C9A489" stroke-width="0.08">10</text>
<text x="306.9" y="339.52" font-size="7" fill="#C9A489" text-anchor="end" textLength="5.88" lengthAdjust="spacingAndGlyphs" stroke="#C9A489" stroke-width="0.08">20</text>
<text x="306.9" y="324.17" font-size="7" fill="#C9A489" text-anchor="end" textLength="5.88" lengthAdjust="spacingAndGlyphs" stroke="#C9A489" stroke-width="0.08">30</text>
<text x="306.9" y="308.82" font-size="7" fill="#C9A489" text-anchor="end" textLength="5.88" lengthAdjust="spacingAndGlyphs" stroke="#C9A489" stroke-width="0.08">40</text>
<text x="306.9" y="293.47" font-size="7" fill="#C9A489" text-anchor="end" textLength="5.88" lengthAdjust="spacingAndGlyphs" stroke="#C9A489" stroke-width="0.08">50</text>
<text x="306.9" y="278.12" font-size="7" fill="#C9A489" text-anchor="end" textLength="5.88" lengthAdjust="spacingAndGlyphs" stroke="#C9A489" stroke-width="0.08">60</text>
<text x="306.9" y="262.77" font-size="7" fill="#C9A489" text-anchor="end" textLength="5.88" lengthAdjust="spacingAndGlyphs" stroke="#C9A489" stroke-width="0.08">70</text>
<text x="306.9" y="247.42" font-size="7" fill="#C9A489" text-anchor="end" textLength="5.88" lengthAdjust="spacingAndGlyphs" stroke="#C9A489" stroke-width="0.08">80</text>
<text x="306.9" y="232.07" font-size="7" fill="#C9A489" text-anchor="end" textLength="5.88" lengthAdjust="spacingAndGlyphs" stroke="#C9A489" stroke-width="0.08">90</text>
<text x="306.9" y="216.72" font-size="7" fill="#C9A489" text-anchor="end" textLength="8.82" lengthAdjust="spacingAndGlyphs" stroke="#C9A489" stroke-width="0.08">100</text>
<path d="M502.7,214.2V367.7" stroke="#B3D1B6" stroke-width="1.3"/>
<path d="M502.7,367.7H504.7M502.7,353.75H503.9M502.7,339.79H504.7M502.7,325.84H503.9M502.7,311.88H504.7M502.7,297.93H503.9M502.7,283.97H504.7M502.7,270.02H503.9M502.7,256.06H504.7M502.7,242.11H503.9M502.7,228.15H504.7M502.7,214.2H503.9" stroke="#B3D1B6" stroke-width="0.7"/>
<text x="508.2" y="370.22" font-size="7" fill="#8FBA94" textLength="2.94" lengthAdjust="spacingAndGlyphs" stroke="#8FBA94" stroke-width="0.08">0</text>
<text x="508.2" y="342.31" font-size="7" fill="#8FBA94" textLength="5.88" lengthAdjust="spacingAndGlyphs" stroke="#8FBA94" stroke-width="0.08">10</text>
<text x="508.2" y="314.4" font-size="7" fill="#8FBA94" textLength="5.88" lengthAdjust="spacingAndGlyphs" stroke="#8FBA94" stroke-width="0.08">20</text>
<text x="508.2" y="286.49" font-size="7" fill="#8FBA94" textLength="5.88" lengthAdjust="spacingAndGlyphs" stroke="#8FBA94" stroke-width="0.08">30</text>
<text x="508.2" y="258.58" font-size="7" fill="#8FBA94" textLength="5.88" lengthAdjust="spacingAndGlyphs" stroke="#8FBA94" stroke-width="0.08">40</text>
<text x="508.2" y="230.67" font-size="7" fill="#8FBA94" textLength="5.88" lengthAdjust="spacingAndGlyphs" stroke="#8FBA94" stroke-width="0.08">50</text>
<path d="M525.9,214.2V367.7" stroke="#666666" stroke-width="1.1"/>
<path d="M525.9,367.7H528.8M525.9,355.89H527.5M525.9,344.08H528.8M525.9,332.28H527.5M525.9,320.47H528.8M525.9,308.66H527.5M525.9,296.85H528.8M525.9,285.05H527.5M525.9,273.24H528.8M525.9,261.43H527.5M525.9,249.62H528.8M525.9,237.82H527.5M525.9,226.01H528.8M525.9,214.2H527.5" stroke="#444" stroke-width="0.9"/>
<text x="530.9" y="370.22" font-size="7" fill="#1a1a1a" textLength="7.35" lengthAdjust="spacingAndGlyphs" stroke="#1a1a1a" stroke-width="0.22">0.0</text>
<text x="530.9" y="346.6" font-size="7" fill="#1a1a1a" textLength="7.35" lengthAdjust="spacingAndGlyphs" stroke="#1a1a1a" stroke-width="0.22">0.4</text>
<text x="530.9" y="322.99" font-size="7" fill="#1a1a1a" textLength="7.35" lengthAdjust="spacingAndGlyphs" stroke="#1a1a1a" stroke-width="0.22">0.8</text>
<text x="530.9" y="299.37" font-size="7" fill="#1a1a1a" textLength="7.35" lengthAdjust="spacingAndGlyphs" stroke="#1a1a1a" stroke-width="0.22">1.2</text>
<text x="530.9" y="275.76" font-size="7" fill="#1a1a1a" textLength="7.35" lengthAdjust="spacingAndGlyphs" stroke="#1a1a1a" stroke-width="0.22">1.6</text>
<text x="530.9" y="252.14" font-size="7" fill="#1a1a1a" textLength="7.35" lengthAdjust="spacingAndGlyphs" stroke="#1a1a1a" stroke-width="0.22">2.0</text>
<text x="530.9" y="228.53" font-size="7" fill="#1a1a1a" textLength="7.35" lengthAdjust="spacingAndGlyphs" stroke="#1a1a1a" stroke-width="0.22">2.4</text>
<path d="M312.3,367.7H502.7" stroke="#5a5a5a" stroke-width="1.1"/>
<path d="M344.03,367.7V370.6M407.5,367.7V370.6M375.77,367.7V369.1M470.97,367.7V370.6M439.23,367.7V369.1" stroke="#5a5a5a" stroke-width="0.7"/>
<text x="344.03" y="378.42" font-size="7" fill="#111111" text-anchor="middle" textLength="2.94" lengthAdjust="spacingAndGlyphs" stroke="#111111" stroke-width="0.16">1</text>
<text x="407.5" y="378.42" font-size="7" fill="#111111" text-anchor="middle" textLength="2.94" lengthAdjust="spacingAndGlyphs" stroke="#111111" stroke-width="0.16">2</text>
<text x="470.97" y="378.42" font-size="7" fill="#111111" text-anchor="middle" textLength="2.94" lengthAdjust="spacingAndGlyphs" stroke="#111111" stroke-width="0.16">3</text>
<text x="410.4" y="386.5" font-size="8.6" fill="#111111" text-anchor="middle" textLength="56" lengthAdjust="spacingAndGlyphs" stroke="#111111" stroke-width="0.22">Loading direction</text>
<g transform="translate(293.1,288.5) rotate(-90) scale(1,0.95)"><text x="0" y="2.64" font-size="8" fill="#111111" text-anchor="middle" textLength="65.5" lengthAdjust="spacingAndGlyphs" stroke="#111111" stroke-width="0.2">High kernel rate(%)</text></g>
<g transform="translate(519.5,289.5) rotate(-90) scale(1,0.95)"><text x="0" y="2.64" font-size="8" fill="#111111" text-anchor="middle" textLength="68" lengthAdjust="spacingAndGlyphs" stroke="#111111" stroke-width="0.2">Whole kernel rate(%)</text></g>
<g transform="translate(544.3,290.6) rotate(-90) scale(1,1.06)"><text x="0" y="2.64" font-size="8" fill="#111111" text-anchor="middle" textLength="33.4" lengthAdjust="spacingAndGlyphs" stroke="#111111" stroke-width="0.2">SKC(mm)</text></g>
<path d="M344.03,283.8 C354.61,283.53 386.34,282.3 407.5,282.2 C428.66,282.1 460.39,283.03 470.97,283.2" stroke="#2a2a2a" stroke-width="0.65" fill="none"/>
<path d="M344.03,281.5V286.1M343.03,281.5H345.03M343.03,286.1H345.03" stroke="#333333" stroke-width="0.5"/>
<rect x="342.93" y="282.7" width="2.2" height="2.2" fill="#111"/>
<text x="344.03" y="278.3" font-size="8.5" fill="#000" text-anchor="middle" textLength="6.51" lengthAdjust="spacingAndGlyphs" stroke="#000" stroke-width="0.05">A</text>
<path d="M407.5,278.5V285.9M406.5,278.5H408.5M406.5,285.9H408.5" stroke="#333333" stroke-width="0.5"/>
<rect x="406.4" y="281.1" width="2.2" height="2.2" fill="#111"/>
<text x="407.5" y="275" font-size="8.5" fill="#000" text-anchor="middle" textLength="6.51" lengthAdjust="spacingAndGlyphs" stroke="#000" stroke-width="0.05">A</text>
<path d="M470.97,281V285.4M469.97,281H471.97M469.97,285.4H471.97" stroke="#333333" stroke-width="0.5"/>
<rect x="469.87" y="282.1" width="2.2" height="2.2" fill="#111"/>
<text x="470.97" y="277.9" font-size="8.5" fill="#000" text-anchor="middle" textLength="6.51" lengthAdjust="spacingAndGlyphs" stroke="#000" stroke-width="0.05">A</text>
<rect x="331.7" y="214.7" width="151.6" height="11.1" fill="#fff" stroke="#7a7a7a" stroke-width="0.8"/>
<rect x="333.4" y="218.4" width="9.7" height="5" fill="#FDCA90"/>
<rect x="392.7" y="218.4" width="9.8" height="5" fill="#98D49C"/>
<text x="344.7" y="223.4" font-size="7.8" fill="#111111" textLength="46.8" lengthAdjust="spacingAndGlyphs" stroke="#111111" stroke-width="0.2">High kernel rate</text>
<text x="403.9" y="223.4" font-size="7.8" fill="#111111" textLength="52.3" lengthAdjust="spacingAndGlyphs" stroke="#111111" stroke-width="0.2">Whole kernel rate</text>
<text x="468.3" y="223.4" font-size="7.8" fill="#111111" textLength="13.4" lengthAdjust="spacingAndGlyphs" stroke="#111111" stroke-width="0.2">SKC</text>
<path d="M456.9,220.9H467.3" stroke="#555" stroke-width="0.55"/>
<rect x="461.1" y="219.8" width="2.2" height="2.2" fill="#000"/>
<text x="419.2" y="406.6" font-size="12.8" fill="#111" text-anchor="middle">(<tspan font-weight="bold">d</tspan>)</text>
</g>
</svg>
</body></html>
